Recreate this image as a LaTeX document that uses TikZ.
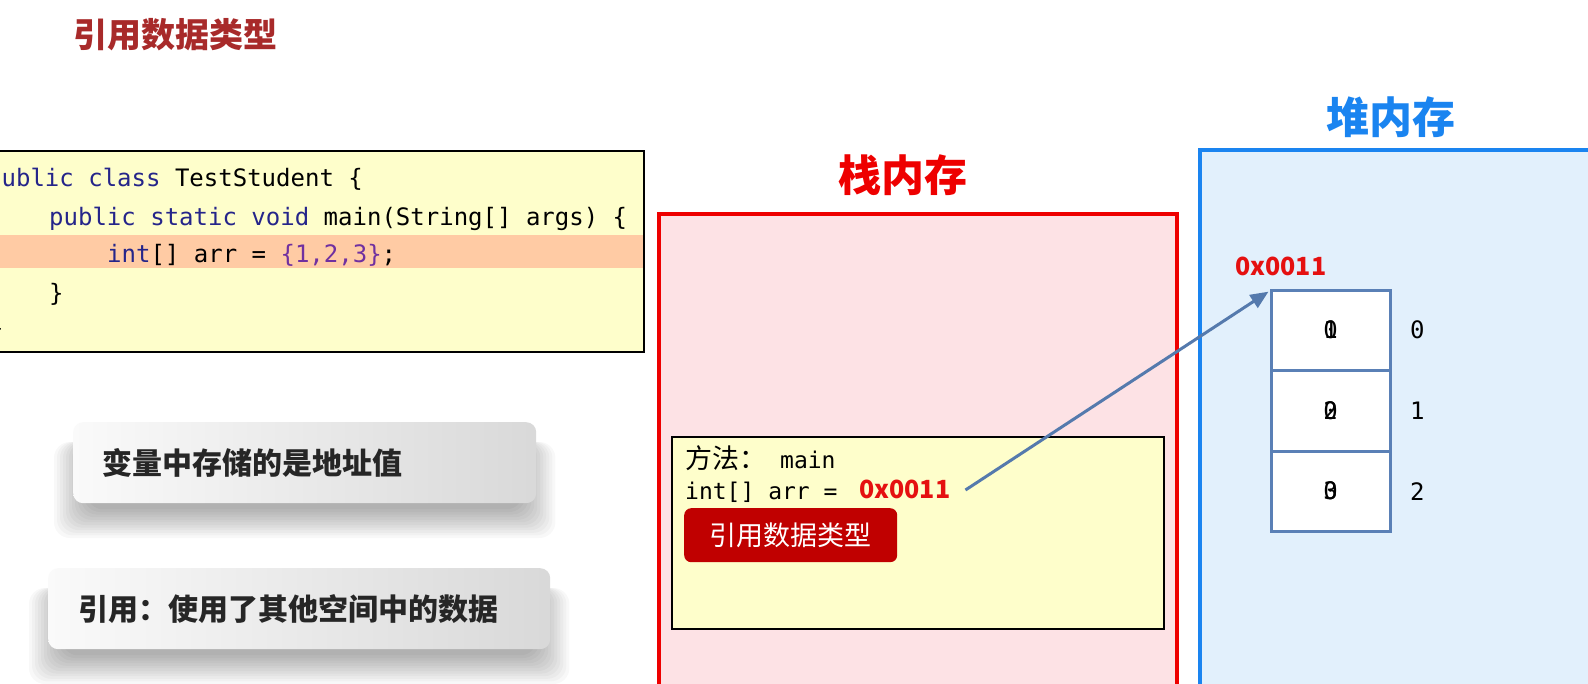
\documentclass[tikz,border=0pt]{standalone}
\usepackage{fontspec}
\setmainfont{Noto Sans CJK SC}
\setmonofont{DejaVu Sans Mono}
\usepackage{xcolor}
\usetikzlibrary{arrows.meta, positioning, backgrounds}
\definecolor{titlered}{HTML}{A82A2A}
\definecolor{stackred}{HTML}{EE0000}
\definecolor{stackfill}{HTML}{FDE2E5}
\definecolor{heapblue}{HTML}{1A84F0}
\definecolor{heapfill}{HTML}{E2F0FC}
\definecolor{cellblue}{HTML}{5A80B6}
\definecolor{codefill}{HTML}{FEFECB}
\definecolor{hilite}{HTML}{FFCBA4}
\definecolor{keyword}{HTML}{25258A}
\definecolor{literal}{HTML}{7030A0}
\definecolor{btnred}{HTML}{C00000}
\definecolor{addrred}{HTML}{E51010}
\newcommand{\kw}[1]{\textcolor{keyword}{#1}}

\begin{document}
\begin{tikzpicture}[
  x=1pt, y=-1pt,
  codeline/.style={anchor=west, inner sep=0pt, font=\ttfamily\fontsize{24}{24}\selectfont,
    text height=17pt, text depth=5pt},
  frameline/.style={anchor=west, inner sep=0pt, font=\fontsize{27}{27}\selectfont,
    text height=19pt, text depth=5pt},
  areatitle/.style={font=\bfseries\fontsize{43}{43}\selectfont},
  addrtext/.style={text=addrred, font=\bfseries\fontsize{25}{25}\selectfont, inner sep=0pt},
  cell/.style={draw=cellblue, line width=3pt, fill=white, minimum width=119pt,
    minimum height=80.5pt, outer sep=0pt, font=\ttfamily\fontsize{24}{24}\selectfont},
  idx/.style={font=\ttfamily\fontsize{24}{24}\selectfont, inner sep=0pt},
  card/.style={rounded corners=10pt, left color=black!2, right color=black!15,
    minimum height=81pt, inner xsep=29pt, align=left, anchor=north west,
    text=black!85, font=\bfseries\fontsize{30}{30}\selectfont},
  >={Triangle[length=18pt, width=15pt]}
]
\useasboundingbox (0,0) rectangle (1588,683);
\clip (0,0) rectangle (1588,683);

\node[text=titlered, font=\bfseries\fontsize{34}{34}\selectfont, anchor=west, inner sep=0pt]
  (title) at (73,35) {引用数据类型};

% code listing
\draw[fill=codefill, line width=1.5pt] (-5,151) rectangle (644,352);
\fill[hilite] (-4,235) rectangle (643,268);
\node[codeline] (code1) at (-13,180) {\kw{public class} TestStudent \{};
\node[codeline] (code2) at (49,219) {\kw{public static void} main(String[] args) \{};
\node[codeline] (code3) at (107,256) {\kw{int}[] arr = \textcolor{literal}{\{1,2,3\}};};
\node[codeline] (code4) at (49,295) {\}};
\node[codeline] (code5) at (-11,330) {\}};

% notes with soft shadow
\node[card, text width=405pt] (note1) at (73,422) {变量中存储的是地址值};
\node[card, text width=442pt, inner xsep=30pt] (note2) at (48,568) {引用：使用了其他空间中的数据};
\begin{scope}[on background layer]
  \fill[white] (0,0) rectangle (1588,683);
  \foreach \n in {note1,note2}
    \foreach \i in {0,...,11}
      \fill[black, opacity=0.028, rounded corners=16pt]
        ([xshift=14pt-\i*3pt, yshift=-6pt-\i*2.6pt]\n.south west) rectangle
        ([xshift=-14pt+\i*3pt, yshift=-20pt]\n.north east);
\end{scope}

% stack
\node[areatitle, text=stackred] (stacktitle) at (903,175) {栈内存};
\draw[stackred, fill=stackfill, line width=4pt] (659,214) rectangle (1177,700);
\draw[fill=codefill, line width=1.5pt] (672,437) rectangle (1164,629);
\node[frameline] (method) at (685,461) {方法：\hspace{14pt}{\ttfamily\fontsize{23}{23}\selectfont main}};
\node[frameline, font=\ttfamily\fontsize{23}{23}\selectfont] (var) at (685,492) {int[] arr =};
\node[addrtext, anchor=west] (addr) at (859,489) {0x0011};
\node[fill=btnred, rounded corners=7pt, minimum width=213pt, minimum height=54pt,
  text=white, font=\fontsize{27}{27}\selectfont, anchor=north west] (refbtn) at (684,508) {引用数据类型};

% heap
\node[areatitle, text=heapblue] (heaptitle) at (1391,117) {堆内存};
\draw[heapblue, fill=heapfill, line width=4pt] (1200,150) rectangle (1600,700);
\node[addrtext, anchor=west] (heapaddr) at (1235,266) {0x0011};
\node[cell, anchor=north west] (cell0) at (1271,290) {\rlap{0}1\hspace{12pt}};
\node[cell, below=0pt of cell0] (cell1) {\rlap{0}2\hspace{12pt}};
\node[cell, below=0pt of cell1] (cell2) {\rlap{0}3\hspace{12pt}};
\node[idx, right=20pt of cell0] (idx0) {0};
\node[idx, right=20pt of cell1] (idx1) {1};
\node[idx, right=20pt of cell2] (idx2) {2};

\draw[->, cellblue!95!black, line width=3pt, shorten >=3pt]
  ([xshift=15pt, yshift=-1pt]addr.east) -- (cell0.north west);
\end{tikzpicture}
\end{document}
